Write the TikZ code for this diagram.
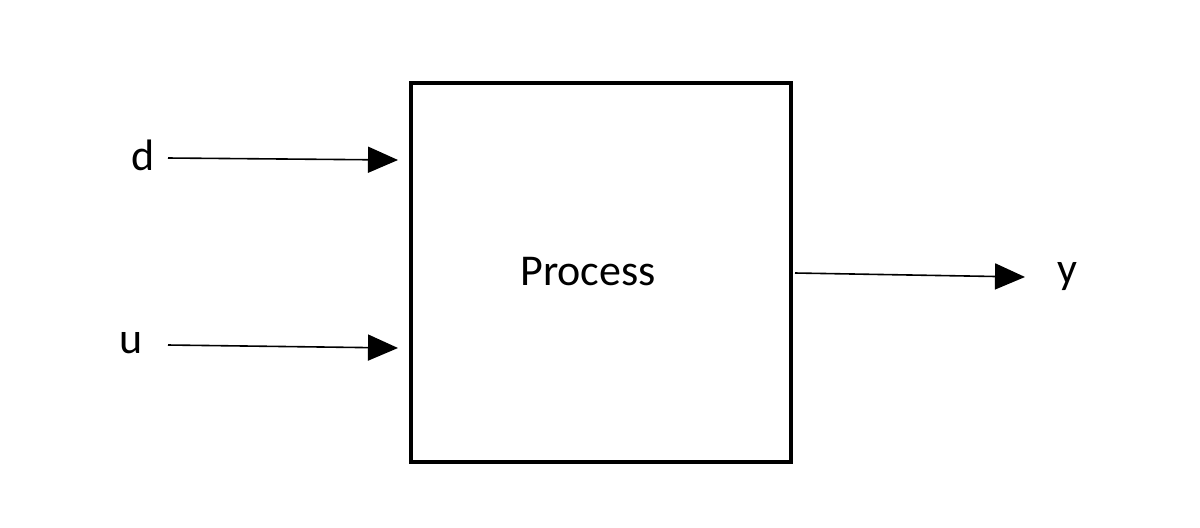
\documentclass[tikz,border=0pt]{standalone}
\usepackage{fontspec}
\setmainfont{Carlito}
\usetikzlibrary{arrows.meta}
\begin{document}
\begin{tikzpicture}[x=0.5pt,y=-0.5pt,
  lbl/.style={font=\fontsize{22}{26}\selectfont, inner sep=0pt},
  conn/.style={line width=0.8pt, -{Triangle[length=15pt,width=13pt]}}]
\useasboundingbox (0,0) rectangle (1200,527);
\node[draw, line width=1.6pt, minimum width=190pt, minimum height=189.5pt, inner sep=0pt] (p) at (601,272.5) {};
\node[lbl] (pt) at (588,272) {Process};
\node[lbl] (d) at (143,155) {d};
\node[lbl] (u) at (131,343) {u};
\node[lbl] (y) at (1067,277) {y};
\coordinate (ds) at (168,158); \coordinate (de) at (398,160);
\coordinate (us) at (168,345); \coordinate (ue) at (398,348);
\coordinate (ys) at (795,273); \coordinate (ye) at (1025,277);
\draw[conn] (ds) -- (de);
\draw[conn] (us) -- (ue);
\draw[conn] (ys) -- (ye);
\end{tikzpicture}
\end{document}
